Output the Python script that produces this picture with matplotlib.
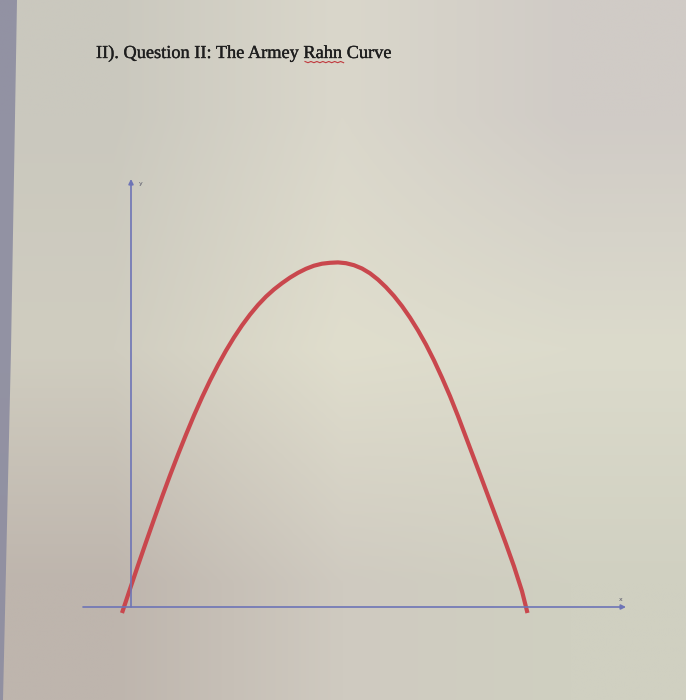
import matplotlib.pyplot as plt
import matplotlib.patheffects as pe
import numpy as np
from matplotlib.patches import Polygon

# curve (units: screen pixels, origin where the two axes meet)
curve_x = [-9, -1, 7, 15, 23, 31, 39, 47, 55, 63, 71, 79, 87, 95, 103, 111, 119, 127, 135, 143,
           151, 159, 167, 175, 183, 191, 199, 207, 215, 223, 231, 239, 247, 255, 263, 271, 279,
           287, 295, 303, 311, 319, 327, 335, 343, 351, 359, 367, 375, 383, 391, 396.5]
curve_y = [-6, 18, 41.6, 64.8, 87.6, 110, 131.6, 152.4, 172.4, 191.6, 209.6, 226.4, 242, 256.4,
           269.6, 281.6, 292.4, 302, 310.4, 317.6, 323.8, 329.4, 334.2, 338.2, 341.3, 343.3, 344.2,
           344.6, 343.8, 341.8, 338.5, 333.7, 327.4, 319.8, 311.0, 300.9, 289.4, 276.6, 262.4,
           246.6, 229.3, 210.9, 190.9, 169.7, 148.5, 127.3, 105.9, 84.6, 63.0, 40.6, 15.8, -6]

x_axis_span = [-48, 495]
y_axis_top = 428

title = "II). Question II: The Armey Rahn Curve"
flagged_word = "Rahn"

W, H, DPI = 686, 700, 100
fig = plt.figure(figsize=(W / DPI, H / DPI), dpi=DPI)

# photographed screen background
bg = fig.add_axes([0, 0, 1, 1])
bg_colors = np.array([
    [[202, 200, 190], [218, 215, 203], [208, 203, 198]],
    [[208, 205, 192], [224, 222, 205], [220, 219, 204]],
    [[190, 181, 173], [207, 202, 192], [208, 208, 193]],
]) / 255.0
bg.imshow(bg_colors, extent=[0, 1, 0, 1], aspect="auto", interpolation="bilinear")
bg.set_xlim(0, 1)
bg.set_ylim(0, 1)
bg.axis("off")
fig.patches.append(Polygon([(0, 1), (17 / W, 1), (11 / W, 0.5), (3 / W, 0), (0, 0)],
                           closed=True, transform=fig.transFigure,
                           facecolor="#8c8ca0", edgecolor="none", alpha=0.9))

ax = fig.add_axes([0, 0, 1, 1])
ax.patch.set_alpha(0)
ax.set_xlim(-131, W - 131)
ax.set_ylim(-(H - 607), 607)
ax.axis("off")

axis_color = "#6d74b6"
arrow = dict(arrowstyle="-|>", color=axis_color, lw=1.2, mutation_scale=7, shrinkA=0, shrinkB=0)
ax.annotate("", xy=(x_axis_span[1], 0), xytext=(x_axis_span[0], 0), arrowprops=arrow)
ax.annotate("", xy=(0, y_axis_top), xytext=(0, 0), arrowprops=arrow)
ax.text(8, y_axis_top - 6, "y", fontsize=4.5, color="#555566", family="DejaVu Sans")
ax.text(x_axis_span[1] - 7, 6, "x", fontsize=4.5, color="#555566", family="DejaVu Sans")

ax.plot(curve_x, curve_y, color="#c9474d", lw=3.0, solid_capstyle="butt", solid_joinstyle="round")

# title with the red spell-check squiggle under the flagged word
font = dict(fontsize=13.2, family="Liberation Serif", color="#1e1e1e")
x0, y0 = 96 / W, 1 - 58 / H
fig.text(x0, y0, title, va="baseline",
         path_effects=[pe.withStroke(linewidth=0.25, foreground="#1e1e1e")], **font)

renderer = fig.canvas.get_renderer()
end = title.index(flagged_word) + len(flagged_word)
probe = fig.text(0, 0, title[:end], **font)
w_end = probe.get_window_extent(renderer).width / W
probe.remove()
probe = fig.text(0, 0, flagged_word, **font)
w_word = probe.get_window_extent(renderer).width / W
probe.remove()

sx = np.linspace(x0 + w_end - w_word, x0 + w_end, 14)
sy = y0 - (3.5 + 1.2 * (np.arange(14) % 2)) / H
fig.lines.append(plt.Line2D(sx, sy, transform=fig.transFigure, color="#c0393e", lw=0.8))

fig.savefig("out.png", dpi=DPI)
